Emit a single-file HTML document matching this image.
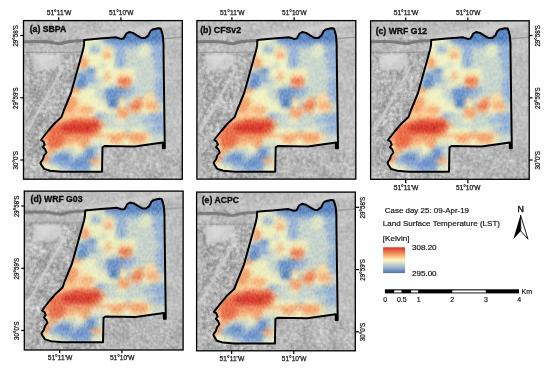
<!DOCTYPE html><html><head><meta charset="utf-8"><style>html,body{margin:0;padding:0;background:#fff;width:550px;height:370px;overflow:hidden}svg{display:block}</style></head><body><svg width="550" height="370" viewBox="0 0 550 370"><rect width="550" height="370" fill="#fff"/><defs><filter id="tex" x="0" y="0" width="100%" height="100%" color-interpolation-filters="sRGB">
<feTurbulence type="fractalNoise" baseFrequency="0.3" numOctaves="3" seed="3" result="f"/>
<feColorMatrix in="f" type="matrix" values="0.85 0 0 0 0.27  0.85 0 0 0 0.27  0.85 0 0 0 0.27  0 0 0 0 1" result="fg"/>
<feTurbulence type="fractalNoise" baseFrequency="0.07" numOctaves="2" seed="11" result="c"/>
<feColorMatrix in="c" type="matrix" values="0.5 0 0 0 0.44  0.5 0 0 0 0.44  0.5 0 0 0 0.44  0 0 0 0 1" result="cg"/>
<feComposite in="fg" in2="cg" operator="arithmetic" k1="0" k2="0.5" k3="0.5" k4="0"/>
<feGaussianBlur stdDeviation="0.45"/>
</filter><filter id="hn" x="0" y="0" width="100%" height="100%" color-interpolation-filters="sRGB">
<feTurbulence type="fractalNoise" baseFrequency="0.45 0.3" numOctaves="2" seed="5"/>
<feColorMatrix type="matrix" values="1.2 0 0 0 -0.1  1.2 0 0 0 -0.1  1.2 0 0 0 -0.1  0 0 0 0 1"/>
<feGaussianBlur stdDeviation="0.4"/>
</filter><filter id="blur" x="-10%" y="-10%" width="120%" height="120%" color-interpolation-filters="sRGB"><feGaussianBlur stdDeviation="2.2"/></filter><filter id="blur3" x="-20%" y="-20%" width="140%" height="140%"><feGaussianBlur stdDeviation="0.6"/></filter><filter id="blur2" x="-20%" y="-20%" width="140%" height="140%"><feGaussianBlur stdDeviation="1.2"/></filter><clipPath id="polyclip"><polygon points="84.2,40.0 84.0,45.0 83.0,50.0 71.0,93.0 64.0,110.0 61.5,117.0 54.0,124.0 48.0,131.0 41.0,140.0 43.5,141.6 44.7,144.6 42.9,147.0 45.3,149.5 46.5,152.5 44.1,155.5 42.9,159.2 40.4,162.8 41.6,165.3 44.1,168.9 50.1,170.8 61.9,171.8 102.0,171.8 102.5,147.3 104.5,146.0 134.5,146.4 162.8,142.5 162.8,148.3 164.8,148.3 163.5,52.0 163.5,43.8 162.9,36.2 161.8,31.8 160.7,28.5 158.0,28.3 152.5,29.4 150.4,31.3 148.2,35.6 144.9,38.1 141.6,38.1 137.3,35.6 132.9,32.9 129.1,32.0 126.4,33.5 123.6,38.4 120.9,38.9 115.5,37.3 110.0,37.8 100.0,38.6 92.0,39.2"/></clipPath><g id="bgfeat"><g filter="url(#blur2)"><rect x="18" y="18" width="170" height="21" fill="#c6c6c6" opacity="0.55"/><rect x="18" y="44" width="70" height="8" fill="#c8c8c8" opacity="0.5"/><path d="M80,40 C110,36 140,30 185,20" stroke="#d6d6d6" stroke-width="6" fill="none" opacity="0.6"/><polygon points="32,54 60,53.5 62,69 34,71" fill="#d6d6d6" opacity="0.8"/><polygon points="35,55 55,55 42,67" fill="#e0e0e0" opacity="0.6"/><rect x="22" y="60" width="7" height="120" fill="#c8c8c8" opacity="0.35"/><rect x="164" y="36" width="22" height="112" fill="#c8c8c8" opacity="0.6"/><rect x="100" y="146" width="90" height="40" fill="#c4c4c4" opacity="0.3"/></g><g filter="url(#blur3)"><path d="M20,41.9 C30,41.4 44,41 51.4,42.5 S60,44 64.4,42.5 S78,41 88,40.3" stroke="#747474" stroke-width="3" fill="none" opacity="0.9"/><path d="M160,39 C170,38 178,37.5 186,37" stroke="#8a8a8a" stroke-width="1.6" fill="none" opacity="0.7"/><path d="M20,52.3 C45,52 70,52.8 84,51.5" stroke="#8e8e8e" stroke-width="1.1" fill="none" opacity="0.7"/><path d="M64,66 L27,132" stroke="#d2d2d2" stroke-width="3" fill="none" opacity="0.65"/><path d="M58,66 L22,130" stroke="#909090" stroke-width="2.5" fill="none" opacity="0.45"/><path d="M20,80 L26,60" stroke="#9a9a9a" stroke-width="3" fill="none" opacity="0.5"/></g></g><g id="heat"><g clip-path="url(#polyclip)"><g filter="url(#blur)"><rect x="25" y="18" width="75" height="5" fill="#f1f1c4"/><rect x="100" y="18" width="6" height="5" fill="#98b4d6"/><rect x="106" y="18" width="74" height="5" fill="#5a86c2"/><rect x="25" y="23" width="75" height="5" fill="#f1f1c4"/><rect x="100" y="23" width="6" height="5" fill="#98b4d6"/><rect x="106" y="23" width="74" height="5" fill="#5a86c2"/><rect x="25" y="28" width="75" height="5" fill="#f1f1c4"/><rect x="100" y="28" width="6" height="5" fill="#98b4d6"/><rect x="106" y="28" width="74" height="5" fill="#5a86c2"/><rect x="25" y="33" width="75" height="5" fill="#f1f1c4"/><rect x="100" y="33" width="6" height="5" fill="#98b4d6"/><rect x="106" y="33" width="74" height="5" fill="#5a86c2"/><rect x="25" y="38" width="73" height="5" fill="#f1f1c4"/><rect x="98" y="38" width="6" height="5" fill="#c9d6cd"/><rect x="104" y="38" width="6" height="5" fill="#6f95cb"/><rect x="110" y="38" width="70" height="5" fill="#5a86c2"/><rect x="25" y="43" width="63" height="5" fill="#f1f1c4"/><rect x="88" y="43" width="12" height="5" fill="#c9d6cd"/><rect x="100" y="43" width="5" height="5" fill="#f1f1c4"/><rect x="105" y="43" width="7" height="5" fill="#c9d6cd"/><rect x="112" y="43" width="18" height="5" fill="#98b4d6"/><rect x="130" y="43" width="10" height="5" fill="#98b4d6"/><rect x="140" y="43" width="10" height="5" fill="#e2e8c8"/><rect x="150" y="43" width="30" height="5" fill="#98b4d6"/><rect x="25" y="48" width="65" height="5" fill="#f1f1c4"/><rect x="90" y="48" width="10" height="5" fill="#98b4d6"/><rect x="100" y="48" width="4" height="5" fill="#f1f1c4"/><rect x="104" y="48" width="7" height="5" fill="#fbd9a0"/><rect x="111" y="48" width="4" height="5" fill="#f1f1c4"/><rect x="115" y="48" width="10" height="5" fill="#98b4d6"/><rect x="125" y="48" width="13" height="5" fill="#c9d6cd"/><rect x="138" y="48" width="14" height="5" fill="#e2e8c8"/><rect x="152" y="48" width="28" height="5" fill="#98b4d6"/><rect x="25" y="53" width="55" height="5" fill="#f1f1c4"/><rect x="80" y="53" width="5" height="5" fill="#fbd9a0"/><rect x="85" y="53" width="18" height="5" fill="#f1f1c4"/><rect x="103" y="53" width="8" height="5" fill="#f4a570"/><rect x="111" y="53" width="4" height="5" fill="#f1f1c4"/><rect x="115" y="53" width="10" height="5" fill="#98b4d6"/><rect x="125" y="53" width="13" height="5" fill="#c9d6cd"/><rect x="138" y="53" width="12" height="5" fill="#e2e8c8"/><rect x="150" y="53" width="30" height="5" fill="#98b4d6"/><rect x="25" y="58" width="55" height="5" fill="#fbd9a0"/><rect x="80" y="58" width="8" height="5" fill="#f4a570"/><rect x="88" y="58" width="27" height="5" fill="#f1f1c4"/><rect x="115" y="58" width="10" height="5" fill="#98b4d6"/><rect x="125" y="58" width="15" height="5" fill="#c9d6cd"/><rect x="140" y="58" width="10" height="5" fill="#c9d6cd"/><rect x="150" y="58" width="5" height="5" fill="#c9d6cd"/><rect x="155" y="58" width="25" height="5" fill="#98b4d6"/><rect x="25" y="63" width="55" height="5" fill="#fbd9a0"/><rect x="80" y="63" width="8" height="5" fill="#f4a570"/><rect x="88" y="63" width="7" height="5" fill="#f1f1c4"/><rect x="95" y="63" width="5" height="5" fill="#f1f1c4"/><rect x="100" y="63" width="5" height="5" fill="#c9d6cd"/><rect x="105" y="63" width="10" height="5" fill="#f1f1c4"/><rect x="115" y="63" width="10" height="5" fill="#98b4d6"/><rect x="125" y="63" width="25" height="5" fill="#c9d6cd"/><rect x="150" y="63" width="5" height="5" fill="#c9d6cd"/><rect x="155" y="63" width="25" height="5" fill="#98b4d6"/><rect x="25" y="68" width="53" height="5" fill="#f1f1c4"/><rect x="78" y="68" width="2" height="5" fill="#c9d6cd"/><rect x="80" y="68" width="7" height="5" fill="#c9d6cd"/><rect x="87" y="68" width="9" height="5" fill="#6f95cb"/><rect x="96" y="68" width="24" height="5" fill="#f1f1c4"/><rect x="120" y="68" width="15" height="5" fill="#f1f1c4"/><rect x="135" y="68" width="15" height="5" fill="#c9d6cd"/><rect x="150" y="68" width="5" height="5" fill="#c9d6cd"/><rect x="155" y="68" width="25" height="5" fill="#98b4d6"/><rect x="25" y="73" width="50" height="5" fill="#f1f1c4"/><rect x="75" y="73" width="3" height="5" fill="#c9d6cd"/><rect x="78" y="73" width="8" height="5" fill="#6f95cb"/><rect x="86" y="73" width="9" height="5" fill="#98b4d6"/><rect x="95" y="73" width="10" height="5" fill="#f1f1c4"/><rect x="105" y="73" width="5" height="5" fill="#f4a570"/><rect x="110" y="73" width="8" height="5" fill="#f1f1c4"/><rect x="118" y="73" width="13" height="5" fill="#fbd9a0"/><rect x="131" y="73" width="4" height="5" fill="#f1f1c4"/><rect x="135" y="73" width="25" height="5" fill="#c9d6cd"/><rect x="160" y="73" width="20" height="5" fill="#98b4d6"/><rect x="25" y="78" width="50" height="5" fill="#c9d6cd"/><rect x="75" y="78" width="3" height="5" fill="#98b4d6"/><rect x="78" y="78" width="8" height="5" fill="#6f95cb"/><rect x="86" y="78" width="9" height="5" fill="#98b4d6"/><rect x="95" y="78" width="10" height="5" fill="#c9d6cd"/><rect x="105" y="78" width="5" height="5" fill="#fbd9a0"/><rect x="110" y="78" width="8" height="5" fill="#f1f1c4"/><rect x="118" y="78" width="13" height="5" fill="#ea6d48"/><rect x="131" y="78" width="4" height="5" fill="#f1f1c4"/><rect x="135" y="78" width="15" height="5" fill="#c9d6cd"/><rect x="150" y="78" width="5" height="5" fill="#c9d6cd"/><rect x="155" y="78" width="25" height="5" fill="#98b4d6"/><rect x="25" y="83" width="47" height="5" fill="#f1f1c4"/><rect x="72" y="83" width="5" height="5" fill="#98b4d6"/><rect x="77" y="83" width="9" height="5" fill="#5a86c2"/><rect x="86" y="83" width="14" height="5" fill="#c9d6cd"/><rect x="100" y="83" width="10" height="5" fill="#f1f1c4"/><rect x="110" y="83" width="8" height="5" fill="#c9d6cd"/><rect x="118" y="83" width="13" height="5" fill="#f4a570"/><rect x="130" y="83" width="20" height="5" fill="#c9d6cd"/><rect x="150" y="83" width="5" height="5" fill="#c9d6cd"/><rect x="155" y="83" width="25" height="5" fill="#98b4d6"/><rect x="25" y="88" width="47" height="5" fill="#fbd9a0"/><rect x="72" y="88" width="8" height="5" fill="#f4a570"/><rect x="80" y="88" width="15" height="5" fill="#f1f1c4"/><rect x="95" y="88" width="10" height="5" fill="#c9d6cd"/><rect x="105" y="88" width="20" height="5" fill="#6f95cb"/><rect x="125" y="88" width="10" height="5" fill="#98b4d6"/><rect x="135" y="88" width="20" height="5" fill="#c9d6cd"/><rect x="155" y="88" width="25" height="5" fill="#98b4d6"/><rect x="25" y="93" width="50" height="5" fill="#fbd9a0"/><rect x="75" y="93" width="20" height="5" fill="#f1f1c4"/><rect x="95" y="93" width="10" height="5" fill="#c9d6cd"/><rect x="105" y="93" width="15" height="5" fill="#6f95cb"/><rect x="120" y="93" width="10" height="5" fill="#98b4d6"/><rect x="130" y="93" width="15" height="5" fill="#c9d6cd"/><rect x="145" y="93" width="10" height="5" fill="#fbd9a0"/><rect x="155" y="93" width="25" height="5" fill="#98b4d6"/><rect x="25" y="98" width="53" height="5" fill="#f4a570"/><rect x="78" y="98" width="22" height="5" fill="#f1f1c4"/><rect x="100" y="98" width="8" height="5" fill="#c9d6cd"/><rect x="108" y="98" width="10" height="5" fill="#5a86c2"/><rect x="118" y="98" width="7" height="5" fill="#fbd9a0"/><rect x="125" y="98" width="5" height="5" fill="#c9d6cd"/><rect x="130" y="98" width="4" height="5" fill="#f1f1c4"/><rect x="134" y="98" width="9" height="5" fill="#f4a570"/><rect x="143" y="98" width="2" height="5" fill="#f1f1c4"/><rect x="145" y="98" width="10" height="5" fill="#fbd9a0"/><rect x="155" y="98" width="5" height="5" fill="#c9d6cd"/><rect x="160" y="98" width="20" height="5" fill="#98b4d6"/><rect x="25" y="103" width="45" height="5" fill="#f4a570"/><rect x="70" y="103" width="6" height="5" fill="#f4a570"/><rect x="76" y="103" width="14" height="5" fill="#fbd9a0"/><rect x="90" y="103" width="18" height="5" fill="#f1f1c4"/><rect x="108" y="103" width="10" height="5" fill="#5a86c2"/><rect x="118" y="103" width="7" height="5" fill="#f1f1c4"/><rect x="125" y="103" width="5" height="5" fill="#c9d6cd"/><rect x="130" y="103" width="12" height="5" fill="#ea6d48"/><rect x="142" y="103" width="3" height="5" fill="#f1f1c4"/><rect x="145" y="103" width="13" height="5" fill="#f4a570"/><rect x="158" y="103" width="22" height="5" fill="#c9d6cd"/><rect x="25" y="108" width="50" height="5" fill="#f4a570"/><rect x="75" y="108" width="5" height="5" fill="#fbd9a0"/><rect x="80" y="108" width="13" height="5" fill="#f4a570"/><rect x="93" y="108" width="22" height="5" fill="#f1f1c4"/><rect x="115" y="108" width="3" height="5" fill="#fbd9a0"/><rect x="118" y="108" width="12" height="5" fill="#f4a570"/><rect x="130" y="108" width="2" height="5" fill="#f1f1c4"/><rect x="132" y="108" width="8" height="5" fill="#f4a570"/><rect x="140" y="108" width="7" height="5" fill="#f1f1c4"/><rect x="147" y="108" width="11" height="5" fill="#fbd9a0"/><rect x="158" y="108" width="22" height="5" fill="#c9d6cd"/><rect x="25" y="113" width="40" height="5" fill="#fbd9a0"/><rect x="65" y="113" width="25" height="5" fill="#fbd9a0"/><rect x="90" y="113" width="5" height="5" fill="#f1f1c4"/><rect x="95" y="113" width="10" height="5" fill="#98b4d6"/><rect x="105" y="113" width="13" height="5" fill="#c9d6cd"/><rect x="118" y="113" width="10" height="5" fill="#f4a570"/><rect x="128" y="113" width="22" height="5" fill="#c9d6cd"/><rect x="150" y="113" width="30" height="5" fill="#98b4d6"/><rect x="25" y="118" width="35" height="5" fill="#fbd9a0"/><rect x="60" y="118" width="10" height="5" fill="#f4a570"/><rect x="70" y="118" width="28" height="5" fill="#ea6d48"/><rect x="98" y="118" width="2" height="5" fill="#f4a570"/><rect x="100" y="118" width="15" height="5" fill="#c9d6cd"/><rect x="115" y="118" width="10" height="5" fill="#f1f1c4"/><rect x="125" y="118" width="18" height="5" fill="#c9d6cd"/><rect x="143" y="118" width="37" height="5" fill="#98b4d6"/><rect x="25" y="123" width="30" height="5" fill="#f4a570"/><rect x="55" y="123" width="8" height="5" fill="#ea6d48"/><rect x="63" y="123" width="37" height="5" fill="#d73a2c"/><rect x="100" y="123" width="5" height="5" fill="#f4a570"/><rect x="105" y="123" width="15" height="5" fill="#c9d6cd"/><rect x="120" y="123" width="10" height="5" fill="#c9d6cd"/><rect x="130" y="123" width="10" height="5" fill="#c9d6cd"/><rect x="140" y="123" width="15" height="5" fill="#c9d6cd"/><rect x="155" y="123" width="25" height="5" fill="#98b4d6"/><rect x="25" y="128" width="25" height="5" fill="#f4a570"/><rect x="50" y="128" width="12" height="5" fill="#ea6d48"/><rect x="62" y="128" width="30" height="5" fill="#d73a2c"/><rect x="92" y="128" width="8" height="5" fill="#ea6d48"/><rect x="100" y="128" width="14" height="5" fill="#f1f1c4"/><rect x="114" y="128" width="11" height="5" fill="#f1f1c4"/><rect x="125" y="128" width="5" height="5" fill="#c9d6cd"/><rect x="130" y="128" width="13" height="5" fill="#f1f1c4"/><rect x="143" y="128" width="7" height="5" fill="#c9d6cd"/><rect x="150" y="128" width="30" height="5" fill="#98b4d6"/><rect x="25" y="133" width="23" height="5" fill="#f4a570"/><rect x="48" y="133" width="47" height="5" fill="#ea6d48"/><rect x="95" y="133" width="15" height="5" fill="#f1f1c4"/><rect x="110" y="133" width="10" height="5" fill="#fbd9a0"/><rect x="120" y="133" width="25" height="5" fill="#f4a570"/><rect x="145" y="133" width="7" height="5" fill="#fbd9a0"/><rect x="152" y="133" width="28" height="5" fill="#c9d6cd"/><rect x="25" y="138" width="23" height="5" fill="#f4a570"/><rect x="48" y="138" width="18" height="5" fill="#ea6d48"/><rect x="66" y="138" width="24" height="5" fill="#f4a570"/><rect x="90" y="138" width="20" height="5" fill="#f1f1c4"/><rect x="110" y="138" width="12" height="5" fill="#f4a570"/><rect x="122" y="138" width="8" height="5" fill="#f1f1c4"/><rect x="130" y="138" width="16" height="5" fill="#f4a570"/><rect x="146" y="138" width="4" height="5" fill="#f1f1c4"/><rect x="150" y="138" width="30" height="5" fill="#c9d6cd"/><rect x="25" y="143" width="23" height="5" fill="#fbd9a0"/><rect x="48" y="143" width="14" height="5" fill="#ea6d48"/><rect x="62" y="143" width="8" height="5" fill="#fbd9a0"/><rect x="70" y="143" width="5" height="5" fill="#fbd9a0"/><rect x="75" y="143" width="5" height="5" fill="#f1f1c4"/><rect x="80" y="143" width="8" height="5" fill="#f4a570"/><rect x="88" y="143" width="17" height="5" fill="#c9d6cd"/><rect x="105" y="143" width="75" height="5" fill="#f1f1c4"/><rect x="25" y="148" width="23" height="5" fill="#f1f1c4"/><rect x="48" y="148" width="7" height="5" fill="#f4a570"/><rect x="55" y="148" width="5" height="5" fill="#f1f1c4"/><rect x="60" y="148" width="15" height="5" fill="#c9d6cd"/><rect x="75" y="148" width="10" height="5" fill="#f1f1c4"/><rect x="85" y="148" width="10" height="5" fill="#6f95cb"/><rect x="95" y="148" width="10" height="5" fill="#c9d6cd"/><rect x="105" y="148" width="75" height="5" fill="#f1f1c4"/><rect x="25" y="153" width="25" height="5" fill="#f4a570"/><rect x="50" y="153" width="5" height="5" fill="#c9d6cd"/><rect x="55" y="153" width="15" height="5" fill="#6f95cb"/><rect x="70" y="153" width="10" height="5" fill="#c9d6cd"/><rect x="80" y="153" width="5" height="5" fill="#98b4d6"/><rect x="85" y="153" width="10" height="5" fill="#6f95cb"/><rect x="95" y="153" width="10" height="5" fill="#c9d6cd"/><rect x="105" y="153" width="75" height="5" fill="#f1f1c4"/><rect x="25" y="158" width="23" height="5" fill="#f4a570"/><rect x="48" y="158" width="7" height="5" fill="#98b4d6"/><rect x="55" y="158" width="15" height="5" fill="#6f95cb"/><rect x="70" y="158" width="5" height="5" fill="#98b4d6"/><rect x="75" y="158" width="15" height="5" fill="#6f95cb"/><rect x="90" y="158" width="10" height="5" fill="#f4a570"/><rect x="100" y="158" width="80" height="5" fill="#f1f1c4"/><rect x="25" y="163" width="25" height="5" fill="#f1f1c4"/><rect x="50" y="163" width="10" height="5" fill="#c9d6cd"/><rect x="60" y="163" width="10" height="5" fill="#98b4d6"/><rect x="70" y="163" width="20" height="5" fill="#6f95cb"/><rect x="90" y="163" width="10" height="5" fill="#c9d6cd"/><rect x="100" y="163" width="80" height="5" fill="#f1f1c4"/><rect x="25" y="168" width="35" height="5" fill="#f1f1c4"/><rect x="60" y="168" width="10" height="5" fill="#c9d6cd"/><rect x="70" y="168" width="20" height="5" fill="#98b4d6"/><rect x="90" y="168" width="90" height="5" fill="#f1f1c4"/><rect x="25" y="173" width="35" height="5" fill="#f1f1c4"/><rect x="60" y="173" width="10" height="5" fill="#c9d6cd"/><rect x="70" y="173" width="20" height="5" fill="#98b4d6"/><rect x="90" y="173" width="90" height="5" fill="#f1f1c4"/><rect x="25" y="178" width="35" height="5" fill="#f1f1c4"/><rect x="60" y="178" width="10" height="5" fill="#c9d6cd"/><rect x="70" y="178" width="20" height="5" fill="#98b4d6"/><rect x="90" y="178" width="90" height="5" fill="#f1f1c4"/><rect x="62" y="134.5" width="84" height="3" fill="#f4a570"/></g><rect x="30" y="20" width="145" height="160" fill="#fff" filter="url(#hn)" style="mix-blend-mode:soft-light" opacity="0.45"/></g><polygon points="84.2,40.0 84.0,45.0 83.0,50.0 71.0,93.0 64.0,110.0 61.5,117.0 54.0,124.0 48.0,131.0 41.0,140.0 43.5,141.6 44.7,144.6 42.9,147.0 45.3,149.5 46.5,152.5 44.1,155.5 42.9,159.2 40.4,162.8 41.6,165.3 44.1,168.9 50.1,170.8 61.9,171.8 102.0,171.8 102.5,147.3 104.5,146.0 134.5,146.4 162.8,142.5 162.8,148.3 164.8,148.3 163.5,52.0 163.5,43.8 162.9,36.2 161.8,31.8 160.7,28.5 158.0,28.3 152.5,29.4 150.4,31.3 148.2,35.6 144.9,38.1 141.6,38.1 137.3,35.6 132.9,32.9 129.1,32.0 126.4,33.5 123.6,38.4 120.9,38.9 115.5,37.3 110.0,37.8 100.0,38.6 92.0,39.2" fill="none" stroke="#000" stroke-width="2" stroke-linejoin="round"/></g></defs><clipPath id="fc0"><rect x="23.5" y="20.6" width="158.8" height="158.6"/></clipPath><g clip-path="url(#fc0)"><rect x="23.5" y="20.6" width="158.8" height="158.6" fill="#aaa" filter="url(#tex)"/><g transform="translate(0,0)"><use href="#bgfeat"/><use href="#heat"/></g></g><rect x="23.5" y="20.6" width="158.8" height="158.6" fill="none" stroke="#000" stroke-width="1.3"/><text x="29.7" y="31.8" font-family="Liberation Sans, Arial, sans-serif" font-size="8.2" fill="#0a0a0a" font-weight="bold" textLength="36.6" lengthAdjust="spacingAndGlyphs" stroke="#0a0a0a" stroke-width="0.3">(a) SBPA</text><clipPath id="fc1"><rect x="196.9" y="20.6" width="158.9" height="158.5"/></clipPath><g clip-path="url(#fc1)"><rect x="196.9" y="20.6" width="158.9" height="158.5" fill="#aaa" filter="url(#tex)"/><g transform="translate(173.2,0)"><use href="#bgfeat"/><use href="#heat"/></g></g><rect x="196.9" y="20.6" width="158.9" height="158.5" fill="none" stroke="#000" stroke-width="1.3"/><text x="200.2" y="32.9" font-family="Liberation Sans, Arial, sans-serif" font-size="8.2" fill="#0a0a0a" font-weight="bold" textLength="40.9" lengthAdjust="spacingAndGlyphs" stroke="#0a0a0a" stroke-width="0.3">(b) CFSv2</text><clipPath id="fc2"><rect x="370.6" y="20.8" width="158.6" height="158.5"/></clipPath><g clip-path="url(#fc2)"><rect x="370.6" y="20.8" width="158.6" height="158.5" fill="#aaa" filter="url(#tex)"/><g transform="translate(347.0,0)"><use href="#bgfeat"/><use href="#heat"/></g></g><rect x="370.6" y="20.8" width="158.6" height="158.5" fill="none" stroke="#000" stroke-width="1.3"/><text x="375.7" y="33.7" font-family="Liberation Sans, Arial, sans-serif" font-size="8.2" fill="#0a0a0a" font-weight="bold" textLength="51.300000000000004" lengthAdjust="spacingAndGlyphs" stroke="#0a0a0a" stroke-width="0.3">(c) WRF G12</text><clipPath id="fc3"><rect x="24.3" y="191.1" width="158.8" height="158.9"/></clipPath><g clip-path="url(#fc3)"><rect x="24.3" y="191.1" width="158.8" height="158.9" fill="#aaa" filter="url(#tex)"/><g transform="translate(1.0,170.5)"><use href="#bgfeat"/><use href="#heat"/></g></g><rect x="24.3" y="191.1" width="158.8" height="158.9" fill="none" stroke="#000" stroke-width="1.3"/><text x="30.5" y="202.1" font-family="Liberation Sans, Arial, sans-serif" font-size="8.2" fill="#0a0a0a" font-weight="bold" textLength="52.0" lengthAdjust="spacingAndGlyphs" stroke="#0a0a0a" stroke-width="0.3">(d) WRF G03</text><clipPath id="fc4"><rect x="196.6" y="192.1" width="158.7" height="158.7"/></clipPath><g clip-path="url(#fc4)"><rect x="196.6" y="192.1" width="158.7" height="158.7" fill="#aaa" filter="url(#tex)"/><g transform="translate(172.9,171.8)"><use href="#bgfeat"/><use href="#heat"/></g></g><rect x="196.6" y="192.1" width="158.7" height="158.7" fill="none" stroke="#000" stroke-width="1.3"/><text x="201.7" y="203.3" font-family="Liberation Sans, Arial, sans-serif" font-size="8.2" fill="#0a0a0a" font-weight="bold" textLength="37.300000000000004" lengthAdjust="spacingAndGlyphs" stroke="#0a0a0a" stroke-width="0.3">(e) ACPC</text><line x1="58.7" y1="17.3" x2="58.7" y2="20.1" stroke="#000" stroke-width="1.2"/><line x1="120.9" y1="17.3" x2="120.9" y2="20.1" stroke="#000" stroke-width="1.2"/><text x="59.0" y="14.9" font-family="Liberation Sans, Arial, sans-serif" font-size="6.4" fill="#1a1a1a" text-anchor="middle" textLength="24.6" lengthAdjust="spacingAndGlyphs" stroke="#1a1a1a" stroke-width="0.25">51°11'W</text><text x="121.2" y="14.9" font-family="Liberation Sans, Arial, sans-serif" font-size="6.4" fill="#1a1a1a" text-anchor="middle" textLength="24.6" lengthAdjust="spacingAndGlyphs" stroke="#1a1a1a" stroke-width="0.25">51°10'W</text><line x1="20.3" y1="35.5" x2="23.3" y2="35.5" stroke="#000" stroke-width="1.2"/><line x1="20.3" y1="97.8" x2="23.3" y2="97.8" stroke="#000" stroke-width="1.2"/><line x1="20.3" y1="160.0" x2="23.3" y2="160.0" stroke="#000" stroke-width="1.2"/><g transform="translate(18.3,35.8) rotate(-90)"><text x="0" y="0" font-family="Liberation Sans, Arial, sans-serif" font-size="6.4" fill="#1a1a1a" text-anchor="middle" textLength="21.6" lengthAdjust="spacingAndGlyphs" stroke="#1a1a1a" stroke-width="0.25">29°58'S</text></g><g transform="translate(18.3,98.1) rotate(-90)"><text x="0" y="0" font-family="Liberation Sans, Arial, sans-serif" font-size="6.4" fill="#1a1a1a" text-anchor="middle" textLength="21.6" lengthAdjust="spacingAndGlyphs" stroke="#1a1a1a" stroke-width="0.25">29°59'S</text></g><g transform="translate(18.3,160.3) rotate(-90)"><text x="0" y="0" font-family="Liberation Sans, Arial, sans-serif" font-size="6.4" fill="#1a1a1a" text-anchor="middle" textLength="18.4" lengthAdjust="spacingAndGlyphs" stroke="#1a1a1a" stroke-width="0.25">30°0'S</text></g><line x1="231.89999999999998" y1="17.3" x2="231.89999999999998" y2="20.1" stroke="#000" stroke-width="1.2"/><line x1="294.1" y1="17.3" x2="294.1" y2="20.1" stroke="#000" stroke-width="1.2"/><text x="232.2" y="15.2" font-family="Liberation Sans, Arial, sans-serif" font-size="6.4" fill="#1a1a1a" text-anchor="middle" textLength="24.6" lengthAdjust="spacingAndGlyphs" stroke="#1a1a1a" stroke-width="0.25">51°11'W</text><text x="294.40000000000003" y="15.2" font-family="Liberation Sans, Arial, sans-serif" font-size="6.4" fill="#1a1a1a" text-anchor="middle" textLength="24.6" lengthAdjust="spacingAndGlyphs" stroke="#1a1a1a" stroke-width="0.25">51°10'W</text><line x1="405.7" y1="17.6" x2="405.7" y2="20.4" stroke="#000" stroke-width="1.2"/><line x1="467.9" y1="17.6" x2="467.9" y2="20.4" stroke="#000" stroke-width="1.2"/><text x="406.0" y="15.2" font-family="Liberation Sans, Arial, sans-serif" font-size="6.4" fill="#1a1a1a" text-anchor="middle" textLength="24.6" lengthAdjust="spacingAndGlyphs" stroke="#1a1a1a" stroke-width="0.25">51°11'W</text><text x="468.2" y="15.2" font-family="Liberation Sans, Arial, sans-serif" font-size="6.4" fill="#1a1a1a" text-anchor="middle" textLength="24.6" lengthAdjust="spacingAndGlyphs" stroke="#1a1a1a" stroke-width="0.25">51°10'W</text><line x1="529.3" y1="35.5" x2="532.6" y2="35.5" stroke="#000" stroke-width="1.2"/><line x1="529.3" y1="97.8" x2="532.6" y2="97.8" stroke="#000" stroke-width="1.2"/><line x1="529.3" y1="160.0" x2="532.6" y2="160.0" stroke="#000" stroke-width="1.2"/><g transform="translate(539.8,35.8) rotate(-90)"><text x="0" y="0" font-family="Liberation Sans, Arial, sans-serif" font-size="6.4" fill="#1a1a1a" text-anchor="middle" textLength="21.6" lengthAdjust="spacingAndGlyphs" stroke="#1a1a1a" stroke-width="0.25">29°58'S</text></g><g transform="translate(539.8,98.1) rotate(-90)"><text x="0" y="0" font-family="Liberation Sans, Arial, sans-serif" font-size="6.4" fill="#1a1a1a" text-anchor="middle" textLength="21.6" lengthAdjust="spacingAndGlyphs" stroke="#1a1a1a" stroke-width="0.25">29°59'S</text></g><g transform="translate(539.8,160.3) rotate(-90)"><text x="0" y="0" font-family="Liberation Sans, Arial, sans-serif" font-size="6.4" fill="#1a1a1a" text-anchor="middle" textLength="18.4" lengthAdjust="spacingAndGlyphs" stroke="#1a1a1a" stroke-width="0.25">30°0'S</text></g><line x1="405.7" y1="179.8" x2="405.7" y2="183.2" stroke="#000" stroke-width="1.2"/><line x1="467.9" y1="179.8" x2="467.9" y2="183.2" stroke="#000" stroke-width="1.2"/><text x="406.0" y="189.9" font-family="Liberation Sans, Arial, sans-serif" font-size="6.4" fill="#1a1a1a" text-anchor="middle" textLength="24.6" lengthAdjust="spacingAndGlyphs" stroke="#1a1a1a" stroke-width="0.25">51°11'W</text><text x="468.2" y="189.9" font-family="Liberation Sans, Arial, sans-serif" font-size="6.4" fill="#1a1a1a" text-anchor="middle" textLength="24.6" lengthAdjust="spacingAndGlyphs" stroke="#1a1a1a" stroke-width="0.25">51°10'W</text><line x1="21.2" y1="206.0" x2="24.3" y2="206.0" stroke="#000" stroke-width="1.2"/><line x1="21.2" y1="268.3" x2="24.3" y2="268.3" stroke="#000" stroke-width="1.2"/><line x1="21.2" y1="330.5" x2="24.3" y2="330.5" stroke="#000" stroke-width="1.2"/><g transform="translate(18.6,206.3) rotate(-90)"><text x="0" y="0" font-family="Liberation Sans, Arial, sans-serif" font-size="6.4" fill="#1a1a1a" text-anchor="middle" textLength="21.6" lengthAdjust="spacingAndGlyphs" stroke="#1a1a1a" stroke-width="0.25">29°58'S</text></g><g transform="translate(18.6,268.6) rotate(-90)"><text x="0" y="0" font-family="Liberation Sans, Arial, sans-serif" font-size="6.4" fill="#1a1a1a" text-anchor="middle" textLength="21.6" lengthAdjust="spacingAndGlyphs" stroke="#1a1a1a" stroke-width="0.25">29°59'S</text></g><g transform="translate(18.6,330.8) rotate(-90)"><text x="0" y="0" font-family="Liberation Sans, Arial, sans-serif" font-size="6.4" fill="#1a1a1a" text-anchor="middle" textLength="18.4" lengthAdjust="spacingAndGlyphs" stroke="#1a1a1a" stroke-width="0.25">30°0'S</text></g><line x1="59.7" y1="350.0" x2="59.7" y2="353.2" stroke="#000" stroke-width="1.2"/><line x1="121.9" y1="350.0" x2="121.9" y2="353.2" stroke="#000" stroke-width="1.2"/><text x="60.0" y="359.6" font-family="Liberation Sans, Arial, sans-serif" font-size="6.4" fill="#1a1a1a" text-anchor="middle" textLength="24.6" lengthAdjust="spacingAndGlyphs" stroke="#1a1a1a" stroke-width="0.25">51°11'W</text><text x="122.2" y="359.6" font-family="Liberation Sans, Arial, sans-serif" font-size="6.4" fill="#1a1a1a" text-anchor="middle" textLength="24.6" lengthAdjust="spacingAndGlyphs" stroke="#1a1a1a" stroke-width="0.25">51°10'W</text><line x1="355.7" y1="207.3" x2="359.0" y2="207.3" stroke="#000" stroke-width="1.2"/><line x1="355.7" y1="269.6" x2="359.0" y2="269.6" stroke="#000" stroke-width="1.2"/><line x1="355.7" y1="331.8" x2="359.0" y2="331.8" stroke="#000" stroke-width="1.2"/><g transform="translate(365.2,207.60000000000002) rotate(-90)"><text x="0" y="0" font-family="Liberation Sans, Arial, sans-serif" font-size="6.4" fill="#1a1a1a" text-anchor="middle" textLength="21.6" lengthAdjust="spacingAndGlyphs" stroke="#1a1a1a" stroke-width="0.25">29°58'S</text></g><g transform="translate(365.2,269.90000000000003) rotate(-90)"><text x="0" y="0" font-family="Liberation Sans, Arial, sans-serif" font-size="6.4" fill="#1a1a1a" text-anchor="middle" textLength="21.6" lengthAdjust="spacingAndGlyphs" stroke="#1a1a1a" stroke-width="0.25">29°59'S</text></g><g transform="translate(365.2,332.1) rotate(-90)"><text x="0" y="0" font-family="Liberation Sans, Arial, sans-serif" font-size="6.4" fill="#1a1a1a" text-anchor="middle" textLength="18.4" lengthAdjust="spacingAndGlyphs" stroke="#1a1a1a" stroke-width="0.25">30°0'S</text></g><line x1="231.60000000000002" y1="351.0" x2="231.60000000000002" y2="354.1" stroke="#000" stroke-width="1.2"/><line x1="293.8" y1="351.0" x2="293.8" y2="354.1" stroke="#000" stroke-width="1.2"/><text x="231.90000000000003" y="360.5" font-family="Liberation Sans, Arial, sans-serif" font-size="6.4" fill="#1a1a1a" text-anchor="middle" textLength="24.6" lengthAdjust="spacingAndGlyphs" stroke="#1a1a1a" stroke-width="0.25">51°11'W</text><text x="294.1" y="360.5" font-family="Liberation Sans, Arial, sans-serif" font-size="6.4" fill="#1a1a1a" text-anchor="middle" textLength="24.6" lengthAdjust="spacingAndGlyphs" stroke="#1a1a1a" stroke-width="0.25">51°10'W</text><text x="384.8" y="212.7" font-family="Liberation Sans, Arial, sans-serif" font-size="7.9" fill="#111" textLength="84.2" lengthAdjust="spacingAndGlyphs" stroke="#111" stroke-width="0.18">Case day 25: 09-Apr-19</text><text x="382.8" y="226.1" font-family="Liberation Sans, Arial, sans-serif" font-size="7.9" fill="#111" textLength="117.2" lengthAdjust="spacingAndGlyphs" stroke="#111" stroke-width="0.18">Land Surface Temperature (LST)</text><text x="382.8" y="240.5" font-family="Liberation Sans, Arial, sans-serif" font-size="7.9" fill="#111" textLength="26.8" lengthAdjust="spacingAndGlyphs" stroke="#111" stroke-width="0.18">[Kelvin]</text><linearGradient id="cb" x1="0" y1="0" x2="0" y2="1"><stop offset="0" stop-color="#d7312a"/><stop offset="0.25" stop-color="#f4935e"/><stop offset="0.5" stop-color="#fbf7c0"/><stop offset="0.75" stop-color="#a8bcd0"/><stop offset="1" stop-color="#4a74b4"/></linearGradient><rect x="383.1" y="247.3" width="22" height="25.8" fill="url(#cb)"/><text x="412.0" y="250.3" font-family="Liberation Sans, Arial, sans-serif" font-size="7.4" fill="#111" textLength="24.6" lengthAdjust="spacingAndGlyphs" stroke="#111" stroke-width="0.18">308.20</text><text x="412.0" y="276.0" font-family="Liberation Sans, Arial, sans-serif" font-size="7.4" fill="#111" textLength="24.6" lengthAdjust="spacingAndGlyphs" stroke="#111" stroke-width="0.18">295.00</text><text x="520.7" y="212.1" font-family="Liberation Sans, Arial, sans-serif" font-size="8.9" fill="#111" text-anchor="middle" textLength="6.4" lengthAdjust="spacingAndGlyphs" stroke="#111" stroke-width="0.4">N</text><path d="M520.5,215 L513.4,239 L520.8,231 Z" fill="#000"/><path d="M520.5,215 L528,239.2 L520.8,231 Z" fill="#fff" stroke="#000" stroke-width="0.9" stroke-linejoin="miter"/><rect x="384.9" y="289.3" width="134.1" height="4.1" fill="#000"/><rect x="394.2" y="290.4" width="7.3" height="2.1" fill="#fff"/><rect x="411.1" y="290.4" width="7.1" height="2.1" fill="#fff"/><rect x="452.3" y="290.4" width="33.5" height="2.1" fill="#fff"/><text x="385.1" y="301.5" font-family="Liberation Sans, Arial, sans-serif" font-size="7" fill="#111" text-anchor="middle" stroke="#111" stroke-width="0.18">0</text><text x="401.8" y="301.5" font-family="Liberation Sans, Arial, sans-serif" font-size="7" fill="#111" text-anchor="middle" stroke="#111" stroke-width="0.18">0.5</text><text x="418.6" y="301.5" font-family="Liberation Sans, Arial, sans-serif" font-size="7" fill="#111" text-anchor="middle" stroke="#111" stroke-width="0.18">1</text><text x="452.3" y="301.5" font-family="Liberation Sans, Arial, sans-serif" font-size="7" fill="#111" text-anchor="middle" stroke="#111" stroke-width="0.18">2</text><text x="485.9" y="301.5" font-family="Liberation Sans, Arial, sans-serif" font-size="7" fill="#111" text-anchor="middle" stroke="#111" stroke-width="0.18">3</text><text x="519.1" y="301.5" font-family="Liberation Sans, Arial, sans-serif" font-size="7" fill="#111" text-anchor="middle" stroke="#111" stroke-width="0.18">4</text><text x="521.5" y="293.7" font-family="Liberation Sans, Arial, sans-serif" font-size="7" fill="#111" stroke="#111" stroke-width="0.18">Km</text></svg></body></html>
